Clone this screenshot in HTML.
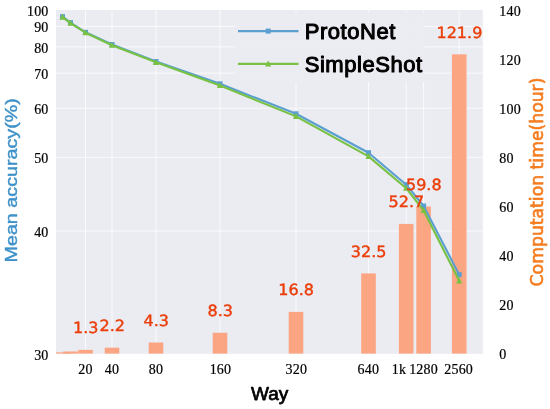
<!DOCTYPE html>
<html><head><meta charset="utf-8"><title>Chart</title>
<style>html,body{margin:0;padding:0;background:#fff}svg{display:block}</style></head>
<body>
<svg width="550" height="409" viewBox="0 0 550 409">
<rect width="550" height="409" fill="#fff"/>
<rect x="56.0" y="10.0" width="426.8" height="343.8" fill="#EBEBF2"/>
<line x1="56.0" x2="482.8" y1="26.37" y2="26.37" stroke="#fff" stroke-width="0.75"/>
<line x1="56.0" x2="482.8" y1="46.84" y2="46.84" stroke="#fff" stroke-width="0.75"/>
<line x1="56.0" x2="482.8" y1="73.15" y2="73.15" stroke="#fff" stroke-width="0.75"/>
<line x1="56.0" x2="482.8" y1="108.23" y2="108.23" stroke="#fff" stroke-width="0.75"/>
<line x1="56.0" x2="482.8" y1="157.34" y2="157.34" stroke="#fff" stroke-width="0.75"/>
<line x1="56.0" x2="482.8" y1="231.01" y2="231.01" stroke="#fff" stroke-width="0.75"/>
<line x1="85.5" x2="85.5" y1="10.0" y2="353.8" stroke="#fff" stroke-width="0.75"/>
<line x1="112" x2="112" y1="10.0" y2="353.8" stroke="#fff" stroke-width="0.75"/>
<line x1="156" x2="156" y1="10.0" y2="353.8" stroke="#fff" stroke-width="0.75"/>
<line x1="220" x2="220" y1="10.0" y2="353.8" stroke="#fff" stroke-width="0.75"/>
<line x1="296" x2="296" y1="10.0" y2="353.8" stroke="#fff" stroke-width="0.75"/>
<line x1="368.5" x2="368.5" y1="10.0" y2="353.8" stroke="#fff" stroke-width="0.75"/>
<line x1="406.2" x2="406.2" y1="10.0" y2="353.8" stroke="#fff" stroke-width="0.75"/>
<line x1="423.6" x2="423.6" y1="10.0" y2="353.8" stroke="#fff" stroke-width="0.75"/>
<line x1="459.2" x2="459.2" y1="10.0" y2="353.8" stroke="#fff" stroke-width="0.75"/>
<clipPath id="c"><rect x="56.0" y="10.0" width="426.8" height="343.8"/></clipPath>
<g clip-path="url(#c)">
<rect x="55.20" y="352.33" width="14.6" height="1.47" fill="#FCA583"/>
<rect x="63.20" y="351.47" width="14.6" height="2.33" fill="#FCA583"/>
<rect x="78.20" y="349.88" width="14.6" height="3.92" fill="#FCA583"/>
<rect x="104.70" y="347.67" width="14.6" height="6.13" fill="#FCA583"/>
<rect x="148.70" y="342.53" width="14.6" height="11.27" fill="#FCA583"/>
<rect x="212.70" y="332.73" width="14.6" height="21.07" fill="#FCA583"/>
<rect x="288.70" y="311.90" width="14.6" height="41.90" fill="#FCA583"/>
<rect x="361.20" y="273.42" width="14.6" height="80.38" fill="#FCA583"/>
<rect x="398.90" y="223.93" width="14.6" height="129.87" fill="#FCA583"/>
<rect x="416.30" y="206.53" width="14.6" height="147.27" fill="#FCA583"/>
<rect x="451.90" y="54.35" width="14.6" height="299.45" fill="#FCA583"/>
</g>
<polyline points="62.5,16.7 70.5,22.7 85.5,32.3 112,44.5 156,61.5 220,83.8 296,113.8 368.5,152.7 406.2,184.7 423.6,206 459.2,274.7" fill="none" stroke="#5A9FD0" stroke-width="2.1" stroke-linejoin="round"/>
<rect x="60.00" y="14.20" width="5" height="5" fill="#5A9FD0"/>
<rect x="68.00" y="20.20" width="5" height="5" fill="#5A9FD0"/>
<rect x="83.00" y="29.80" width="5" height="5" fill="#5A9FD0"/>
<rect x="109.50" y="42.00" width="5" height="5" fill="#5A9FD0"/>
<rect x="153.50" y="59.00" width="5" height="5" fill="#5A9FD0"/>
<rect x="217.50" y="81.30" width="5" height="5" fill="#5A9FD0"/>
<rect x="293.50" y="111.30" width="5" height="5" fill="#5A9FD0"/>
<rect x="366.00" y="150.20" width="5" height="5" fill="#5A9FD0"/>
<rect x="403.70" y="182.20" width="5" height="5" fill="#5A9FD0"/>
<rect x="421.10" y="203.50" width="5" height="5" fill="#5A9FD0"/>
<rect x="456.70" y="272.20" width="5" height="5" fill="#5A9FD0"/>
<polyline points="62.5,17.1 70.5,23.2 85.5,32.7 112,45.2 156,62.3 220,85.5 296,116.4 368.5,156.4 406.2,188.2 423.6,210.5 459.2,280.8" fill="none" stroke="#78C143" stroke-width="2.1" stroke-linejoin="round"/>
<path d="M59.40,19.70L65.60,19.70L62.50,13.80Z" fill="#78C143"/>
<path d="M67.40,25.80L73.60,25.80L70.50,19.90Z" fill="#78C143"/>
<path d="M82.40,35.30L88.60,35.30L85.50,29.40Z" fill="#78C143"/>
<path d="M108.90,47.80L115.10,47.80L112.00,41.90Z" fill="#78C143"/>
<path d="M152.90,64.90L159.10,64.90L156.00,59.00Z" fill="#78C143"/>
<path d="M216.90,88.10L223.10,88.10L220.00,82.20Z" fill="#78C143"/>
<path d="M292.90,119.00L299.10,119.00L296.00,113.10Z" fill="#78C143"/>
<path d="M365.40,159.00L371.60,159.00L368.50,153.10Z" fill="#78C143"/>
<path d="M403.10,190.80L409.30,190.80L406.20,184.90Z" fill="#78C143"/>
<path d="M420.50,213.10L426.70,213.10L423.60,207.20Z" fill="#78C143"/>
<path d="M456.10,283.40L462.30,283.40L459.20,277.50Z" fill="#78C143"/>
<rect x="235" y="12.5" width="189.5" height="69.5" fill="#EBEBF2" fill-opacity="0.93"/>
<line x1="238" x2="298.5" y1="31.1" y2="31.1" stroke="#5A9FD0" stroke-width="2.1"/><rect x="265.7" y="28.6" width="5" height="5" fill="#5A9FD0"/>
<line x1="238" x2="298.5" y1="63.9" y2="63.9" stroke="#78C143" stroke-width="2.1"/><path d="M265.1,66.5L271.3,66.5L268.2,60.6Z" fill="#78C143"/>
<g font-family="'Liberation Sans', sans-serif" font-size="22" fill="#000" stroke="#000" stroke-width="1.05" stroke-linejoin="round" letter-spacing="0.55"><text x="304.7" y="38.6">ProtoNet</text><text x="304.7" y="72">SimpleShot</text></g>
<g font-family="'DejaVu Sans', sans-serif" text-rendering="geometricPrecision" font-size="15.4" fill="#EB3E0A" stroke="#EB3E0A" stroke-width="0.42" text-anchor="middle">
<text transform="translate(85.70,333.38) scale(1.04,1)">1.3</text>
<text transform="translate(112.20,331.17) scale(1.04,1)">2.2</text>
<text transform="translate(156.20,326.03) scale(1.04,1)">4.3</text>
<text transform="translate(220.20,316.23) scale(1.04,1)">8.3</text>
<text transform="translate(296.20,295.40) scale(1.04,1)">16.8</text>
<text transform="translate(368.70,256.92) scale(1.04,1)">32.5</text>
<text transform="translate(406.40,207.43) scale(1.04,1)">52.7</text>
<text transform="translate(423.80,190.03) scale(1.04,1)">59.8</text>
<text transform="translate(459.40,37.85) scale(1.04,1)">121.9</text>
</g>
<g font-family="'Liberation Serif', serif" font-size="14" fill="#000" stroke="#000" stroke-width="0.2" letter-spacing="0.18">
<g text-anchor="end">
<text x="48.5" y="16.00">100</text>
<text x="48.5" y="32.37">90</text>
<text x="48.5" y="52.84">80</text>
<text x="48.5" y="79.15">70</text>
<text x="48.5" y="114.23">60</text>
<text x="48.5" y="163.34">50</text>
<text x="48.5" y="237.01">40</text>
<text x="48.5" y="359.80">30</text>
</g><g text-anchor="start">
<text x="499.3" y="359.36">0</text>
<text x="499.3" y="310.36">20</text>
<text x="499.3" y="261.35">40</text>
<text x="499.3" y="212.34">60</text>
<text x="499.3" y="163.33">80</text>
<text x="499.3" y="114.32">100</text>
<text x="499.3" y="65.31">120</text>
<text x="499.3" y="16.30">140</text>
</g><g text-anchor="middle">
<text x="85.5" y="373.5">20</text>
<text x="112" y="373.5">40</text>
<text x="156" y="373.5">80</text>
<text x="220.4" y="373.5">160</text>
<text x="296.3" y="373.5">320</text>
<text x="368.3" y="373.5">640</text>
<text x="399" y="373.5">1k</text>
<text x="423.5" y="373.5">1280</text>
<text x="458.7" y="373.5">2560</text>
</g></g>
<text x="269.6" y="399.5" text-anchor="middle" font-family="'Liberation Sans', sans-serif" font-size="19" fill="#000" stroke="#000" stroke-width="0.75" stroke-linejoin="round">Way</text>
<text transform="translate(17.4,180.3) rotate(-90) scale(1.147,1)" text-anchor="middle" font-family="'Liberation Sans', sans-serif" font-size="17.2" fill="#3E92C9" stroke="#3E92C9" stroke-width="0.4">Mean accuracy(%)</text>
<text transform="translate(543.0,182.0) rotate(-90) scale(0.985,1)" text-anchor="middle" font-family="'DejaVu Sans', sans-serif" font-size="17.5" fill="#F57C1F" stroke="#F57C1F" stroke-width="0.6">Computation time(hour)</text>
</svg>
</body></html>
